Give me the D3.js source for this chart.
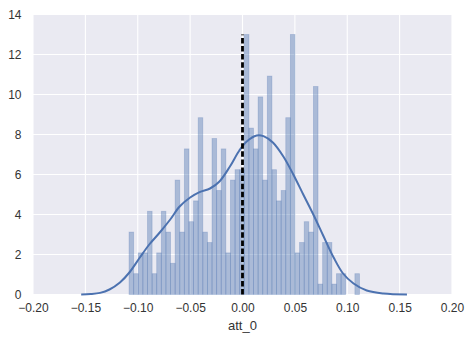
<!DOCTYPE html>
<html>
<head>
<meta charset="utf-8">
<script src="https://cdn.jsdelivr.net/npm/d3@7"></script>
<style>
  html, body { margin: 0; padding: 0; background: #ffffff; }
  svg { display: block; font-family: "Liberation Sans", Arial, sans-serif; }
</style>
</head>
<body>
<svg id="chart" width="474" height="343"></svg>
<script>
// Histogram of att_0 (density-normalised, 50 equal bins between the sample min and max)
const histRange = [-0.1083, 0.1117];
const histDensity = [
  3.12, 1.04, 2.08, 2.08, 4.16, 1.04, 2.08, 4.16, 3.12, 1.56,
  5.72, 3.12, 7.28, 3.64, 4.68, 8.84, 3.12, 2.60, 7.80, 5.20,
  7.28, 2.08, 5.72, 6.24, 6.24, 13.00, 8.32, 7.28, 9.88, 5.72,
  10.92, 6.24, 4.68, 5.20, 8.84, 13.00, 2.08, 2.60, 3.64, 3.12,
  10.40, 0.52, 2.60, 2.60, 0.52, 1.04, 1.04, 0, 0, 1.04
];

// Kernel density estimate of the same sample
const kdeX = [
  -0.154, -0.145, -0.136, -0.127, -0.117, -0.108, -0.098, -0.089, -0.079, -0.069,
  -0.060, -0.050, -0.041, -0.031, -0.022, -0.012, -0.003, 0.004, 0.0135, 0.020,
  0.029, 0.039, 0.0485, 0.058, 0.0676, 0.077, 0.087, 0.096, 0.106, 0.1186,
  0.1345, 0.157
];
const kdeY = [
  0.0, 0.02, 0.08, 0.25, 0.6, 1.1, 1.85, 2.5, 3.1, 3.75,
  4.4, 4.85, 5.12, 5.3, 5.65, 6.4, 7.2, 7.65, 7.95, 7.92,
  7.6, 6.9, 6.0, 5.0, 4.0, 2.95, 1.85, 1.05, 0.55, 0.2,
  0.05, 0.0
];

// Reference marker at zero
const refX = 0;
const refTop = 13;

const xTicks = [-0.20, -0.15, -0.10, -0.05, 0.00, 0.05, 0.10, 0.15, 0.20];
const yTicks = [0, 2, 4, 6, 8, 10, 12, 14];
const xLabel = "att_0";

const width = 474, height = 343;
const margin = { top: 14.5, right: 22, bottom: 48.5, left: 33 };

const svg = d3.select("#chart");

const x = d3.scaleLinear().domain([-0.2, 0.2]).range([margin.left, width - margin.right]);
const y = d3.scaleLinear().domain([0, 14]).range([height - margin.bottom, margin.top]);
// bin index -> data value
const binEdge = d3.scaleLinear().domain([0, histDensity.length]).range(histRange);

// plot background
svg.append("rect")
  .attr("x", x(-0.2)).attr("y", y(14))
  .attr("width", x(0.2) - x(-0.2)).attr("height", y(0) - y(14))
  .attr("fill", "#EAEAF2");

// grid
const grid = svg.append("g").attr("stroke", "#ffffff").attr("stroke-width", 1.1);
grid.selectAll("line.gx").data(xTicks).join("line")
  .attr("x1", d => x(d)).attr("x2", d => x(d))
  .attr("y1", y(0)).attr("y2", y(14));
grid.selectAll("line.gy").data(yTicks).join("line")
  .attr("x1", x(-0.2)).attr("x2", x(0.2))
  .attr("y1", d => y(d)).attr("y2", d => y(d));

// histogram bars (empty bins are skipped)
svg.append("g").selectAll("rect")
  .data(histDensity.map((v, i) => ({ v, i })).filter(d => d.v > 0))
  .join("rect")
  .attr("x", d => x(binEdge(d.i)))
  .attr("width", d => x(binEdge(d.i + 1)) - x(binEdge(d.i)))
  .attr("y", d => y(d.v))
  .attr("height", d => y(0) - y(d.v))
  .attr("fill", "rgba(76,114,176,0.40)")
  .attr("stroke", "rgba(76,114,176,0.30)")
  .attr("stroke-width", 0.8);

// density curve
const line = d3.line()
  .x(d => x(d[0]))
  .y(d => y(d[1]))
  .curve(d3.curveCatmullRom.alpha(0.5));
svg.append("path")
  .datum(kdeX.map((v, i) => [v, kdeY[i]]))
  .attr("d", line)
  .attr("fill", "none")
  .attr("stroke", "#4C72B0")
  .attr("stroke-width", 2);

// dashed marker at zero
svg.append("line")
  .attr("x1", x(refX)).attr("x2", x(refX))
  .attr("y1", y(0)).attr("y2", y(refTop))
  .attr("stroke", "#000000")
  .attr("stroke-width", 2.8)
  .attr("stroke-dasharray", "5.5,2.6");

// axes
const fmt = d3.format(".2f");
const xAxis = svg.append("g")
  .attr("transform", `translate(0,${y(0)})`)
  .call(d3.axisBottom(x).tickValues(xTicks).tickFormat(fmt).tickSize(0).tickPadding(9));
const yAxis = svg.append("g")
  .attr("transform", `translate(${x(-0.2)},0)`)
  .call(d3.axisLeft(y).tickValues(yTicks).tickFormat(d3.format("d")).tickSize(0).tickPadding(11.5));
[xAxis, yAxis].forEach(g => {
  g.select(".domain").remove();
  g.selectAll("text")
    .attr("fill", "#333333")
    .style("font-size", "12px")
    .style("font-family", "'Liberation Sans', Arial, sans-serif");
});

svg.append("text")
  .attr("x", x(0))
  .attr("y", 329.5)
  .attr("text-anchor", "middle")
  .attr("fill", "#333333")
  .style("font-size", "13px")
  .text(xLabel);
</script>
</body>
</html>
